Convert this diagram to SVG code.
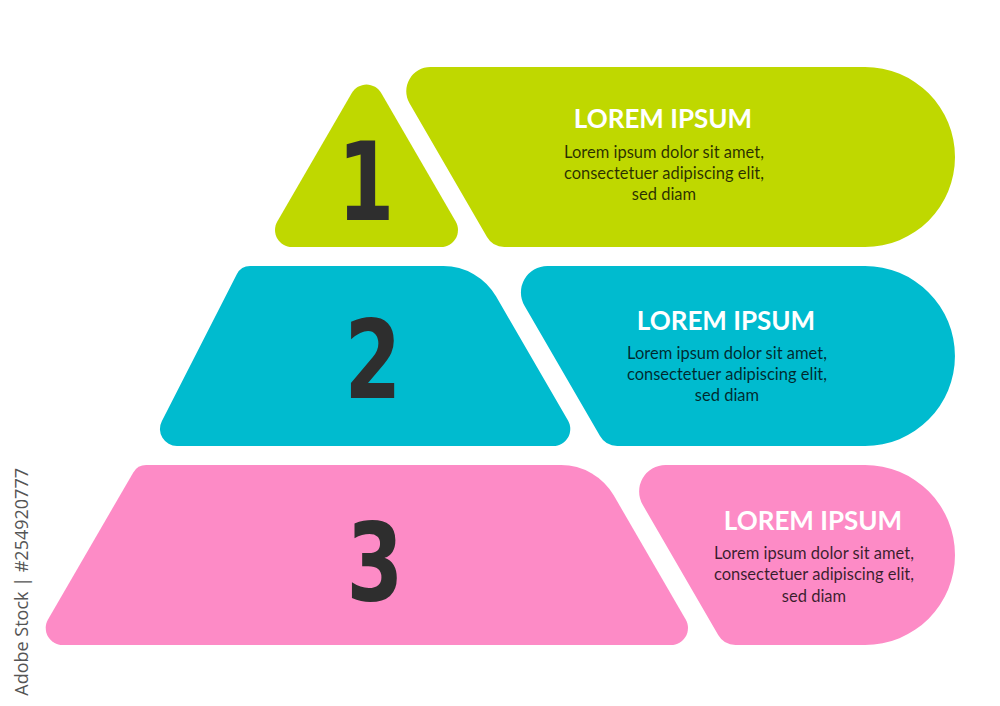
<svg xmlns="http://www.w3.org/2000/svg" width="1000" height="706" viewBox="0 0 1000 706">
  <style>
    .green { fill: #bfd800; }
    .blue { fill: #00bbcf; }
    .pink { fill: #fd8bc6; }
    .num { font-family: "DejaVu Sans Condensed", "DejaVu Sans", sans-serif; font-weight: bold; font-size: 108px; fill: #2e2e2e; text-anchor: middle; }
    .title { font-family: Lato, "Open Sans", sans-serif; font-weight: bold; font-size: 26px; fill: #ffffff; text-anchor: middle; }
    .body { font-family: Lato, "Open Sans", sans-serif; font-size: 16.5px; fill: #000000; fill-opacity: 0.78; text-anchor: middle; }
    .wm { font-family: "Open Sans", "Liberation Sans", sans-serif; font-size: 18px; fill: #555555; text-anchor: end; }
  </style>
  <rect width="1000" height="706" fill="#ffffff"/>

  <g id="step1">
    <path class="green" d="M 381.2,93.05 L 455.7,221.5 A 17 17 0 0 1 441,247 L 292,247 A 17 17 0 0 1 277.3,221.5 L 351.8,93.05 A 17 17 0 0 1 381.2,93.05 Z"/>
    <text class="num" transform="translate(366,220) scale(0.84,1)">1</text>
  </g>
  <g id="card1">
    <path class="green" d="M 430.4,67 H 865 A 90 90 0 0 1 865,247 H 504.3 A 20 20 0 0 1 487,237 L 409.5,103.3 A 24.2 24.2 0 0 1 430.4,67 Z"/>
    <text class="title" x="663" y="128">LOREM IPSUM</text>
    <text class="body" x="664" y="158">Lorem ipsum dolor sit amet,</text>
    <text class="body" x="664" y="179">consectetuer adipiscing elit,</text>
    <text class="body" x="664" y="200">sed diam</text>
  </g>

  <g id="step2">
    <path class="blue" d="M 250.2,266 H 443.4 A 61 61 0 0 1 496,296.3 L 568,420.5 A 17 17 0 0 1 553.3,446 H 176.9 A 17 17 0 0 1 161.8,421.3 L 236.8,274.2 A 15 15 0 0 1 250.2,266 Z"/>
    <text class="num" transform="translate(373,398) scale(0.84,1)">2</text>
  </g>
  <g id="card2">
    <path class="blue" d="M 547.4,266 H 865 A 90 90 0 0 1 865,446 H 617.3 A 20 20 0 0 1 600,436.05 L 524.5,305.8 A 26.5 26.5 0 0 1 547.4,266 Z"/>
    <text class="title" x="726" y="330">LOREM IPSUM</text>
    <text class="body" x="727" y="359">Lorem ipsum dolor sit amet,</text>
    <text class="body" x="727" y="380">consectetuer adipiscing elit,</text>
    <text class="body" x="727" y="401">sed diam</text>
  </g>

  <g id="step3">
    <path class="pink" d="M 146.2,465 H 561.1 A 61 61 0 0 1 613.7,495.3 L 685.7,619.5 A 17 17 0 0 1 671,645 H 62.7 A 17 17 0 0 1 48,619.5 L 133.3,472.4 A 15 15 0 0 1 146.2,465 Z"/>
    <text class="num" transform="translate(375,600) scale(0.84,1)">3</text>
  </g>
  <g id="card3">
    <path class="pink" d="M 665.6,465 H 865 A 90 90 0 0 1 865,645 H 735.5 A 20 20 0 0 1 718.2,635 L 642.7,504.8 A 26.5 26.5 0 0 1 665.6,465 Z"/>
    <text class="title" x="813" y="530">LOREM IPSUM</text>
    <text class="body" x="814" y="559">Lorem ipsum dolor sit amet,</text>
    <text class="body" x="814" y="580">consectetuer adipiscing elit,</text>
    <text class="body" x="814" y="602">sed diam</text>
  </g>

  <g id="connectors"></g>

  <text class="wm" transform="translate(28,468) rotate(-90)">Adobe Stock | #254920777</text>
</svg>
